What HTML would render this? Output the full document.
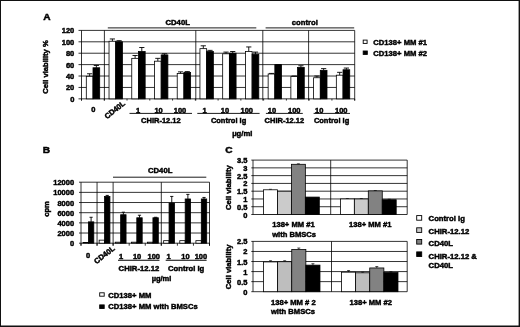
<!DOCTYPE html>
<html><head><meta charset="utf-8"><title>Figure</title>
<style>
html,body{margin:0;padding:0;background:#fff;}
body{width:520px;height:327px;overflow:hidden;position:relative;}
svg{display:block;position:absolute;left:0;top:0;font-family:"Liberation Sans",sans-serif;font-weight:bold;fill:#000;}
text{stroke:#000;stroke-width:0.45px;}
</style></head><body>
<svg width="520" height="327" viewBox="0 0 520 327">
<rect x="0" y="0" width="520" height="327" fill="#fff" stroke="none"/>
<text transform="translate(47.00 19.54) scale(1.13 1)" x="0" y="0" font-size="9.0" text-anchor="middle">A</text>
<line x1="78.50" y1="98.85" x2="354.70" y2="98.85" stroke="#000" stroke-width="0.8"/>
<text x="74.30" y="101.85" font-size="7.5" text-anchor="end">0</text>
<line x1="78.50" y1="87.44" x2="354.70" y2="87.44" stroke="#000" stroke-width="0.8"/>
<text x="74.30" y="90.44" font-size="7.5" text-anchor="end">20</text>
<line x1="78.50" y1="76.03" x2="354.70" y2="76.03" stroke="#000" stroke-width="0.8"/>
<text x="74.30" y="79.03" font-size="7.5" text-anchor="end">40</text>
<line x1="78.50" y1="64.62" x2="354.70" y2="64.62" stroke="#000" stroke-width="0.8"/>
<text x="74.30" y="67.62" font-size="7.5" text-anchor="end">60</text>
<line x1="78.50" y1="53.22" x2="354.70" y2="53.22" stroke="#000" stroke-width="0.8"/>
<text x="74.30" y="56.22" font-size="7.5" text-anchor="end">80</text>
<line x1="78.50" y1="41.81" x2="354.70" y2="41.81" stroke="#000" stroke-width="0.8"/>
<text x="74.30" y="44.81" font-size="7.5" text-anchor="end">100</text>
<line x1="78.50" y1="30.40" x2="354.70" y2="30.40" stroke="#000" stroke-width="0.8"/>
<text x="74.30" y="33.40" font-size="7.5" text-anchor="end">120</text>
<line x1="81.50" y1="30.40" x2="81.50" y2="100.55" stroke="#000" stroke-width="0.8"/>
<line x1="104.40" y1="30.40" x2="104.40" y2="100.55" stroke="#000" stroke-width="0.8"/>
<line x1="195.80" y1="30.40" x2="195.80" y2="100.55" stroke="#000" stroke-width="0.8"/>
<line x1="262.80" y1="30.40" x2="262.80" y2="100.55" stroke="#000" stroke-width="0.8"/>
<line x1="308.60" y1="30.40" x2="308.60" y2="100.55" stroke="#000" stroke-width="0.8"/>
<line x1="354.70" y1="30.40" x2="354.70" y2="100.55" stroke="#000" stroke-width="0.8"/>
<line x1="81.50" y1="98.85" x2="81.50" y2="100.55" stroke="#000" stroke-width="0.8"/>
<line x1="104.27" y1="98.85" x2="104.27" y2="100.55" stroke="#000" stroke-width="0.8"/>
<line x1="127.03" y1="98.85" x2="127.03" y2="100.55" stroke="#000" stroke-width="0.8"/>
<line x1="149.80" y1="98.85" x2="149.80" y2="100.55" stroke="#000" stroke-width="0.8"/>
<line x1="172.57" y1="98.85" x2="172.57" y2="100.55" stroke="#000" stroke-width="0.8"/>
<line x1="195.33" y1="98.85" x2="195.33" y2="100.55" stroke="#000" stroke-width="0.8"/>
<line x1="218.10" y1="98.85" x2="218.10" y2="100.55" stroke="#000" stroke-width="0.8"/>
<line x1="240.87" y1="98.85" x2="240.87" y2="100.55" stroke="#000" stroke-width="0.8"/>
<line x1="263.63" y1="98.85" x2="263.63" y2="100.55" stroke="#000" stroke-width="0.8"/>
<line x1="286.40" y1="98.85" x2="286.40" y2="100.55" stroke="#000" stroke-width="0.8"/>
<line x1="309.17" y1="98.85" x2="309.17" y2="100.55" stroke="#000" stroke-width="0.8"/>
<line x1="331.93" y1="98.85" x2="331.93" y2="100.55" stroke="#000" stroke-width="0.8"/>
<line x1="354.70" y1="98.85" x2="354.70" y2="100.55" stroke="#000" stroke-width="0.8"/>
<line x1="89.65" y1="76.32" x2="89.65" y2="73.75" stroke="#000" stroke-width="0.9"/>
<line x1="87.05" y1="73.75" x2="92.25" y2="73.75" stroke="#000" stroke-width="0.9"/>
<line x1="96.35" y1="67.76" x2="96.35" y2="65.48" stroke="#000" stroke-width="0.9"/>
<line x1="93.75" y1="65.48" x2="98.95" y2="65.48" stroke="#000" stroke-width="0.9"/>
<rect x="86.30" y="76.32" width="6.70" height="22.53" fill="#fff" stroke="#000" stroke-width="0.8"/>
<rect x="93.00" y="67.76" width="6.70" height="31.09" fill="#000" stroke="#000" stroke-width="0.8"/>
<line x1="112.38" y1="41.24" x2="112.38" y2="38.96" stroke="#000" stroke-width="0.9"/>
<line x1="109.78" y1="38.96" x2="114.98" y2="38.96" stroke="#000" stroke-width="0.9"/>
<line x1="119.08" y1="41.81" x2="119.08" y2="40.67" stroke="#000" stroke-width="0.9"/>
<line x1="116.48" y1="40.67" x2="121.68" y2="40.67" stroke="#000" stroke-width="0.9"/>
<rect x="109.03" y="41.24" width="6.70" height="57.61" fill="#fff" stroke="#000" stroke-width="0.8"/>
<rect x="115.73" y="41.81" width="6.70" height="57.04" fill="#000" stroke="#000" stroke-width="0.8"/>
<line x1="135.11" y1="58.35" x2="135.11" y2="55.50" stroke="#000" stroke-width="0.9"/>
<line x1="132.51" y1="55.50" x2="137.71" y2="55.50" stroke="#000" stroke-width="0.9"/>
<line x1="141.81" y1="51.51" x2="141.81" y2="47.51" stroke="#000" stroke-width="0.9"/>
<line x1="139.21" y1="47.51" x2="144.41" y2="47.51" stroke="#000" stroke-width="0.9"/>
<rect x="131.76" y="58.35" width="6.70" height="40.50" fill="#fff" stroke="#000" stroke-width="0.8"/>
<rect x="138.46" y="51.51" width="6.70" height="47.34" fill="#000" stroke="#000" stroke-width="0.8"/>
<line x1="157.84" y1="61.20" x2="157.84" y2="58.35" stroke="#000" stroke-width="0.9"/>
<line x1="155.24" y1="58.35" x2="160.44" y2="58.35" stroke="#000" stroke-width="0.9"/>
<line x1="164.54" y1="54.93" x2="164.54" y2="53.79" stroke="#000" stroke-width="0.9"/>
<line x1="161.94" y1="53.79" x2="167.14" y2="53.79" stroke="#000" stroke-width="0.9"/>
<rect x="154.49" y="61.20" width="6.70" height="37.65" fill="#fff" stroke="#000" stroke-width="0.8"/>
<rect x="161.19" y="54.93" width="6.70" height="43.92" fill="#000" stroke="#000" stroke-width="0.8"/>
<line x1="180.57" y1="73.58" x2="180.57" y2="71.87" stroke="#000" stroke-width="0.9"/>
<line x1="177.97" y1="71.87" x2="183.17" y2="71.87" stroke="#000" stroke-width="0.9"/>
<line x1="187.27" y1="72.44" x2="187.27" y2="71.58" stroke="#000" stroke-width="0.9"/>
<line x1="184.67" y1="71.58" x2="189.87" y2="71.58" stroke="#000" stroke-width="0.9"/>
<rect x="177.22" y="73.58" width="6.70" height="25.27" fill="#fff" stroke="#000" stroke-width="0.8"/>
<rect x="183.92" y="72.44" width="6.70" height="26.41" fill="#000" stroke="#000" stroke-width="0.8"/>
<line x1="203.30" y1="48.65" x2="203.30" y2="45.80" stroke="#000" stroke-width="0.9"/>
<line x1="200.70" y1="45.80" x2="205.90" y2="45.80" stroke="#000" stroke-width="0.9"/>
<line x1="210.00" y1="51.51" x2="210.00" y2="50.36" stroke="#000" stroke-width="0.9"/>
<line x1="207.40" y1="50.36" x2="212.60" y2="50.36" stroke="#000" stroke-width="0.9"/>
<rect x="199.95" y="48.65" width="6.70" height="50.20" fill="#fff" stroke="#000" stroke-width="0.8"/>
<rect x="206.65" y="51.51" width="6.70" height="47.34" fill="#000" stroke="#000" stroke-width="0.8"/>
<line x1="226.03" y1="53.79" x2="226.03" y2="52.08" stroke="#000" stroke-width="0.9"/>
<line x1="223.43" y1="52.08" x2="228.63" y2="52.08" stroke="#000" stroke-width="0.9"/>
<line x1="232.73" y1="53.22" x2="232.73" y2="51.51" stroke="#000" stroke-width="0.9"/>
<line x1="230.13" y1="51.51" x2="235.33" y2="51.51" stroke="#000" stroke-width="0.9"/>
<rect x="222.68" y="53.79" width="6.70" height="45.06" fill="#fff" stroke="#000" stroke-width="0.8"/>
<rect x="229.38" y="53.22" width="6.70" height="45.63" fill="#000" stroke="#000" stroke-width="0.8"/>
<line x1="248.76" y1="51.51" x2="248.76" y2="46.94" stroke="#000" stroke-width="0.9"/>
<line x1="246.16" y1="46.94" x2="251.36" y2="46.94" stroke="#000" stroke-width="0.9"/>
<line x1="255.46" y1="54.36" x2="255.46" y2="52.08" stroke="#000" stroke-width="0.9"/>
<line x1="252.86" y1="52.08" x2="258.06" y2="52.08" stroke="#000" stroke-width="0.9"/>
<rect x="245.41" y="51.51" width="6.70" height="47.34" fill="#fff" stroke="#000" stroke-width="0.8"/>
<rect x="252.11" y="54.36" width="6.70" height="44.49" fill="#000" stroke="#000" stroke-width="0.8"/>
<line x1="271.49" y1="73.98" x2="271.49" y2="73.41" stroke="#000" stroke-width="0.9"/>
<line x1="268.89" y1="73.41" x2="274.09" y2="73.41" stroke="#000" stroke-width="0.9"/>
<line x1="278.19" y1="64.62" x2="278.19" y2="64.62" stroke="#000" stroke-width="0.9"/>
<line x1="275.59" y1="64.62" x2="280.79" y2="64.62" stroke="#000" stroke-width="0.9"/>
<rect x="268.14" y="73.98" width="6.70" height="24.87" fill="#fff" stroke="#000" stroke-width="0.8"/>
<rect x="274.84" y="64.62" width="6.70" height="34.22" fill="#000" stroke="#000" stroke-width="0.8"/>
<line x1="294.22" y1="76.60" x2="294.22" y2="76.03" stroke="#000" stroke-width="0.9"/>
<line x1="291.62" y1="76.03" x2="296.82" y2="76.03" stroke="#000" stroke-width="0.9"/>
<line x1="300.92" y1="67.48" x2="300.92" y2="65.77" stroke="#000" stroke-width="0.9"/>
<line x1="298.32" y1="65.77" x2="303.52" y2="65.77" stroke="#000" stroke-width="0.9"/>
<rect x="290.87" y="76.60" width="6.70" height="22.25" fill="#fff" stroke="#000" stroke-width="0.8"/>
<rect x="297.57" y="67.48" width="6.70" height="31.37" fill="#000" stroke="#000" stroke-width="0.8"/>
<line x1="316.95" y1="77.74" x2="316.95" y2="76.03" stroke="#000" stroke-width="0.9"/>
<line x1="314.35" y1="76.03" x2="319.55" y2="76.03" stroke="#000" stroke-width="0.9"/>
<line x1="323.65" y1="70.33" x2="323.65" y2="68.62" stroke="#000" stroke-width="0.9"/>
<line x1="321.05" y1="68.62" x2="326.25" y2="68.62" stroke="#000" stroke-width="0.9"/>
<rect x="313.60" y="77.74" width="6.70" height="21.11" fill="#fff" stroke="#000" stroke-width="0.8"/>
<rect x="320.30" y="70.33" width="6.70" height="28.52" fill="#000" stroke="#000" stroke-width="0.8"/>
<line x1="339.68" y1="75.18" x2="339.68" y2="72.33" stroke="#000" stroke-width="0.9"/>
<line x1="337.08" y1="72.33" x2="342.28" y2="72.33" stroke="#000" stroke-width="0.9"/>
<line x1="346.38" y1="69.76" x2="346.38" y2="68.05" stroke="#000" stroke-width="0.9"/>
<line x1="343.78" y1="68.05" x2="348.98" y2="68.05" stroke="#000" stroke-width="0.9"/>
<rect x="336.33" y="75.18" width="6.70" height="23.67" fill="#fff" stroke="#000" stroke-width="0.8"/>
<rect x="343.03" y="69.76" width="6.70" height="29.09" fill="#000" stroke="#000" stroke-width="0.8"/>
<text x="47.90" y="67.00" font-size="7.65" text-anchor="middle" transform="rotate(-90 47.90 67.00)">Cell viability %</text>
<text x="177.70" y="24.57" font-size="7.7" text-anchor="middle">CD40L</text>
<text x="304.80" y="24.57" font-size="7.7" text-anchor="middle">control</text>
<line x1="107.80" y1="27.90" x2="256.30" y2="27.90" stroke="#000" stroke-width="0.9"/>
<line x1="265.60" y1="27.90" x2="354.20" y2="27.90" stroke="#000" stroke-width="0.9"/>
<text x="93.30" y="112.40" font-size="7.5" text-anchor="middle">0</text>
<text x="125.70" y="104.50" font-size="7.5" text-anchor="end" transform="rotate(-38 125.70 104.50)">CD40L</text>
<text x="138.00" y="112.70" font-size="7.5" text-anchor="middle">1</text>
<text x="158.60" y="112.70" font-size="7.5" text-anchor="middle">10</text>
<text x="180.00" y="112.70" font-size="7.5" text-anchor="middle">100</text>
<text x="204.50" y="112.70" font-size="7.5" text-anchor="middle">1</text>
<text x="225.00" y="112.70" font-size="7.5" text-anchor="middle">10</text>
<text x="246.75" y="112.70" font-size="7.5" text-anchor="middle">100</text>
<text x="272.00" y="112.70" font-size="7.5" text-anchor="middle">10</text>
<text x="294.25" y="112.70" font-size="7.5" text-anchor="middle">100</text>
<text x="319.25" y="112.70" font-size="7.5" text-anchor="middle">10</text>
<text x="341.25" y="112.70" font-size="7.5" text-anchor="middle">100</text>
<line x1="129.50" y1="113.40" x2="192.00" y2="113.40" stroke="#000" stroke-width="0.9"/>
<line x1="197.30" y1="113.40" x2="259.60" y2="113.40" stroke="#000" stroke-width="0.9"/>
<line x1="265.90" y1="113.40" x2="302.80" y2="113.40" stroke="#000" stroke-width="0.9"/>
<line x1="313.60" y1="113.40" x2="350.00" y2="113.40" stroke="#000" stroke-width="0.9"/>
<text x="160.90" y="122.50" font-size="7.5" text-anchor="middle">CHIR-12.12</text>
<text x="228.60" y="122.50" font-size="7.5" text-anchor="middle">Control Ig</text>
<text x="284.40" y="122.50" font-size="7.5" text-anchor="middle">CHIR-12.12</text>
<text x="331.60" y="122.50" font-size="7.5" text-anchor="middle">Control Ig</text>
<text x="242.30" y="135.67" font-size="7.7" text-anchor="middle">µg/ml</text>
<rect x="363.20" y="40.10" width="3.90" height="3.30" fill="#fff" stroke="#000" stroke-width="0.9"/>
<text x="373.30" y="44.85" font-size="7.65" text-anchor="start">CD138+ MM #1</text>
<rect x="363.20" y="51.00" width="4.10" height="3.40" fill="#000" stroke="#000" stroke-width="0.9"/>
<text x="373.30" y="55.75" font-size="7.65" text-anchor="start">CD138+ MM #2</text>
<text transform="translate(46.30 152.74) scale(1.13 1)" x="0" y="0" font-size="9.0" text-anchor="middle">B</text>
<line x1="79.00" y1="243.20" x2="209.50" y2="243.20" stroke="#000" stroke-width="0.8"/>
<text x="74.10" y="246.20" font-size="7.5" text-anchor="end">0</text>
<line x1="79.00" y1="233.03" x2="209.50" y2="233.03" stroke="#000" stroke-width="0.8"/>
<text x="74.10" y="236.03" font-size="7.5" text-anchor="end">2000</text>
<line x1="79.00" y1="222.87" x2="209.50" y2="222.87" stroke="#000" stroke-width="0.8"/>
<text x="74.10" y="225.87" font-size="7.5" text-anchor="end">4000</text>
<line x1="79.00" y1="212.70" x2="209.50" y2="212.70" stroke="#000" stroke-width="0.8"/>
<text x="74.10" y="215.70" font-size="7.5" text-anchor="end">6000</text>
<line x1="79.00" y1="202.53" x2="209.50" y2="202.53" stroke="#000" stroke-width="0.8"/>
<text x="74.10" y="205.53" font-size="7.5" text-anchor="end">8000</text>
<line x1="79.00" y1="192.37" x2="209.50" y2="192.37" stroke="#000" stroke-width="0.8"/>
<text x="74.10" y="195.37" font-size="7.5" text-anchor="end">10000</text>
<line x1="79.00" y1="182.20" x2="209.50" y2="182.20" stroke="#000" stroke-width="0.8"/>
<text x="74.10" y="185.20" font-size="7.5" text-anchor="end">12000</text>
<line x1="81.00" y1="182.20" x2="81.00" y2="245.70" stroke="#000" stroke-width="0.8"/>
<line x1="97.06" y1="182.20" x2="97.06" y2="245.70" stroke="#000" stroke-width="0.8"/>
<line x1="113.12" y1="182.20" x2="113.12" y2="245.70" stroke="#000" stroke-width="0.8"/>
<line x1="161.31" y1="182.20" x2="161.31" y2="245.70" stroke="#000" stroke-width="0.8"/>
<line x1="209.50" y1="182.20" x2="209.50" y2="245.70" stroke="#000" stroke-width="0.8"/>
<line x1="81.00" y1="243.20" x2="81.00" y2="245.70" stroke="#000" stroke-width="0.8"/>
<line x1="97.06" y1="243.20" x2="97.06" y2="245.70" stroke="#000" stroke-width="0.8"/>
<line x1="113.12" y1="243.20" x2="113.12" y2="245.70" stroke="#000" stroke-width="0.8"/>
<line x1="129.19" y1="243.20" x2="129.19" y2="245.70" stroke="#000" stroke-width="0.8"/>
<line x1="145.25" y1="243.20" x2="145.25" y2="245.70" stroke="#000" stroke-width="0.8"/>
<line x1="161.31" y1="243.20" x2="161.31" y2="245.70" stroke="#000" stroke-width="0.8"/>
<line x1="177.38" y1="243.20" x2="177.38" y2="245.70" stroke="#000" stroke-width="0.8"/>
<line x1="193.44" y1="243.20" x2="193.44" y2="245.70" stroke="#000" stroke-width="0.8"/>
<line x1="209.50" y1="243.20" x2="209.50" y2="245.70" stroke="#000" stroke-width="0.8"/>
<line x1="91.10" y1="221.85" x2="91.10" y2="217.28" stroke="#000" stroke-width="0.9"/>
<line x1="89.50" y1="217.28" x2="92.70" y2="217.28" stroke="#000" stroke-width="0.9"/>
<rect x="83.00" y="242.44" width="5.40" height="0.76" fill="#fff" stroke="#000" stroke-width="0.8"/>
<rect x="88.40" y="221.85" width="5.40" height="21.35" fill="#000" stroke="#000" stroke-width="0.8"/>
<line x1="107.23" y1="196.43" x2="107.23" y2="195.42" stroke="#000" stroke-width="0.9"/>
<line x1="105.63" y1="195.42" x2="108.83" y2="195.42" stroke="#000" stroke-width="0.9"/>
<rect x="99.13" y="240.15" width="5.40" height="3.05" fill="#fff" stroke="#000" stroke-width="0.8"/>
<rect x="104.53" y="196.43" width="5.40" height="46.77" fill="#000" stroke="#000" stroke-width="0.8"/>
<line x1="123.36" y1="214.73" x2="123.36" y2="212.19" stroke="#000" stroke-width="0.9"/>
<line x1="121.76" y1="212.19" x2="124.96" y2="212.19" stroke="#000" stroke-width="0.9"/>
<rect x="115.26" y="242.18" width="5.40" height="1.02" fill="#fff" stroke="#000" stroke-width="0.8"/>
<rect x="120.66" y="214.73" width="5.40" height="28.47" fill="#000" stroke="#000" stroke-width="0.8"/>
<line x1="139.49" y1="217.78" x2="139.49" y2="215.24" stroke="#000" stroke-width="0.9"/>
<line x1="137.89" y1="215.24" x2="141.09" y2="215.24" stroke="#000" stroke-width="0.9"/>
<rect x="131.39" y="242.18" width="5.40" height="1.02" fill="#fff" stroke="#000" stroke-width="0.8"/>
<rect x="136.79" y="217.78" width="5.40" height="25.42" fill="#000" stroke="#000" stroke-width="0.8"/>
<line x1="155.62" y1="217.78" x2="155.62" y2="217.28" stroke="#000" stroke-width="0.9"/>
<line x1="154.02" y1="217.28" x2="157.22" y2="217.28" stroke="#000" stroke-width="0.9"/>
<rect x="147.52" y="242.18" width="5.40" height="1.02" fill="#fff" stroke="#000" stroke-width="0.8"/>
<rect x="152.92" y="217.78" width="5.40" height="25.42" fill="#000" stroke="#000" stroke-width="0.8"/>
<line x1="171.75" y1="203.04" x2="171.75" y2="196.43" stroke="#000" stroke-width="0.9"/>
<line x1="170.15" y1="196.43" x2="173.35" y2="196.43" stroke="#000" stroke-width="0.9"/>
<rect x="163.65" y="240.66" width="5.40" height="2.54" fill="#fff" stroke="#000" stroke-width="0.8"/>
<rect x="169.05" y="203.04" width="5.40" height="40.16" fill="#000" stroke="#000" stroke-width="0.8"/>
<line x1="187.88" y1="198.97" x2="187.88" y2="194.40" stroke="#000" stroke-width="0.9"/>
<line x1="186.28" y1="194.40" x2="189.48" y2="194.40" stroke="#000" stroke-width="0.9"/>
<rect x="179.78" y="240.66" width="5.40" height="2.54" fill="#fff" stroke="#000" stroke-width="0.8"/>
<rect x="185.18" y="198.97" width="5.40" height="44.22" fill="#000" stroke="#000" stroke-width="0.8"/>
<line x1="204.01" y1="198.97" x2="204.01" y2="197.45" stroke="#000" stroke-width="0.9"/>
<line x1="202.41" y1="197.45" x2="205.61" y2="197.45" stroke="#000" stroke-width="0.9"/>
<rect x="195.91" y="240.66" width="5.40" height="2.54" fill="#fff" stroke="#000" stroke-width="0.8"/>
<rect x="201.31" y="198.97" width="5.40" height="44.22" fill="#000" stroke="#000" stroke-width="0.8"/>
<text x="48.80" y="209.00" font-size="7.6" text-anchor="middle" transform="rotate(-90 48.80 209.00)">cpm</text>
<text x="160.20" y="172.77" font-size="7.7" text-anchor="middle">CD40L</text>
<line x1="113.00" y1="177.20" x2="206.30" y2="177.20" stroke="#000" stroke-width="0.9"/>
<text x="88.20" y="258.40" font-size="7.5" text-anchor="middle">0</text>
<text x="115.30" y="249.50" font-size="7.5" text-anchor="end" transform="rotate(-38 115.30 249.50)">CD40L</text>
<text x="121.00" y="258.60" font-size="7.5" text-anchor="middle">1</text>
<text x="137.10" y="258.60" font-size="7.5" text-anchor="middle">10</text>
<text x="153.80" y="258.60" font-size="7.5" text-anchor="middle">100</text>
<text x="168.50" y="258.60" font-size="7.5" text-anchor="middle">1</text>
<text x="185.50" y="258.60" font-size="7.5" text-anchor="middle">10</text>
<text x="200.90" y="258.60" font-size="7.5" text-anchor="middle">100</text>
<line x1="118.00" y1="260.20" x2="159.50" y2="260.20" stroke="#000" stroke-width="1.1"/>
<line x1="165.70" y1="260.20" x2="206.60" y2="260.20" stroke="#000" stroke-width="1.1"/>
<text x="138.90" y="270.97" font-size="7.7" text-anchor="middle">CHIR-12.12</text>
<text x="186.10" y="270.97" font-size="7.7" text-anchor="middle">Control Ig</text>
<text x="161.50" y="280.90" font-size="7.5" text-anchor="middle">µg/ml</text>
<rect x="99.70" y="292.80" width="4.50" height="3.40" fill="#fff" stroke="#000" stroke-width="0.9"/>
<text x="108.30" y="297.55" font-size="7.65" text-anchor="start">CD138+ MM</text>
<rect x="99.70" y="304.90" width="4.50" height="3.60" fill="#000" stroke="#000" stroke-width="0.9"/>
<text x="108.30" y="309.05" font-size="7.65" text-anchor="start">CD138+ MM with BMSCs</text>
<text transform="translate(228.90 152.84) scale(1.13 1)" x="0" y="0" font-size="9.0" text-anchor="middle">C</text>
<line x1="251.30" y1="214.50" x2="407.20" y2="214.50" stroke="#000" stroke-width="0.8"/>
<text x="247.50" y="217.50" font-size="7.5" text-anchor="end">0</text>
<line x1="251.30" y1="206.73" x2="407.20" y2="206.73" stroke="#000" stroke-width="0.8"/>
<text x="247.50" y="209.73" font-size="7.5" text-anchor="end">0.5</text>
<line x1="251.30" y1="198.96" x2="407.20" y2="198.96" stroke="#000" stroke-width="0.8"/>
<text x="247.50" y="201.96" font-size="7.5" text-anchor="end">1</text>
<line x1="251.30" y1="191.19" x2="407.20" y2="191.19" stroke="#000" stroke-width="0.8"/>
<text x="247.50" y="194.19" font-size="7.5" text-anchor="end">1.5</text>
<line x1="251.30" y1="183.41" x2="407.20" y2="183.41" stroke="#000" stroke-width="0.8"/>
<text x="247.50" y="186.41" font-size="7.5" text-anchor="end">2</text>
<line x1="251.30" y1="175.64" x2="407.20" y2="175.64" stroke="#000" stroke-width="0.8"/>
<text x="247.50" y="178.64" font-size="7.5" text-anchor="end">2.5</text>
<line x1="251.30" y1="167.87" x2="407.20" y2="167.87" stroke="#000" stroke-width="0.8"/>
<text x="247.50" y="170.87" font-size="7.5" text-anchor="end">3</text>
<line x1="251.30" y1="160.10" x2="407.20" y2="160.10" stroke="#000" stroke-width="0.8"/>
<text x="247.50" y="163.10" font-size="7.5" text-anchor="end">3.5</text>
<line x1="253.00" y1="160.10" x2="253.00" y2="214.50" stroke="#000" stroke-width="0.8"/>
<line x1="330.70" y1="160.10" x2="330.70" y2="214.50" stroke="#000" stroke-width="0.8"/>
<line x1="407.20" y1="160.10" x2="407.20" y2="214.50" stroke="#000" stroke-width="0.8"/>
<line x1="270.48" y1="189.79" x2="270.48" y2="189.32" stroke="#000" stroke-width="0.7"/>
<line x1="268.98" y1="189.32" x2="271.98" y2="189.32" stroke="#000" stroke-width="0.7"/>
<rect x="263.50" y="189.79" width="13.95" height="24.71" fill="#fff" stroke="#000" stroke-width="0.8"/>
<rect x="277.45" y="191.19" width="13.95" height="23.31" fill="#cbcbcb" stroke="#000" stroke-width="0.8"/>
<line x1="298.38" y1="164.30" x2="298.38" y2="163.83" stroke="#000" stroke-width="0.7"/>
<line x1="296.88" y1="163.83" x2="299.88" y2="163.83" stroke="#000" stroke-width="0.7"/>
<rect x="291.40" y="164.30" width="13.95" height="50.20" fill="#828282" stroke="#000" stroke-width="0.8"/>
<rect x="305.35" y="197.09" width="13.95" height="17.41" fill="#000" stroke="#000" stroke-width="0.8"/>
<line x1="347.38" y1="198.96" x2="347.38" y2="198.65" stroke="#000" stroke-width="0.7"/>
<line x1="345.88" y1="198.65" x2="348.88" y2="198.65" stroke="#000" stroke-width="0.7"/>
<rect x="340.40" y="198.96" width="13.95" height="15.54" fill="#fff" stroke="#000" stroke-width="0.8"/>
<line x1="361.32" y1="198.96" x2="361.32" y2="198.65" stroke="#000" stroke-width="0.7"/>
<line x1="359.82" y1="198.65" x2="362.82" y2="198.65" stroke="#000" stroke-width="0.7"/>
<rect x="354.35" y="198.96" width="13.95" height="15.54" fill="#cbcbcb" stroke="#000" stroke-width="0.8"/>
<line x1="375.27" y1="190.87" x2="375.27" y2="190.56" stroke="#000" stroke-width="0.7"/>
<line x1="373.77" y1="190.56" x2="376.77" y2="190.56" stroke="#000" stroke-width="0.7"/>
<rect x="368.30" y="190.87" width="13.95" height="23.63" fill="#828282" stroke="#000" stroke-width="0.8"/>
<line x1="389.22" y1="199.73" x2="389.22" y2="199.27" stroke="#000" stroke-width="0.7"/>
<line x1="387.72" y1="199.27" x2="390.72" y2="199.27" stroke="#000" stroke-width="0.7"/>
<rect x="382.25" y="199.73" width="13.95" height="14.77" fill="#000" stroke="#000" stroke-width="0.8"/>
<text x="231.40" y="187.60" font-size="7.65" text-anchor="middle" transform="rotate(-90 231.40 187.60)">Cell viability</text>
<line x1="251.30" y1="291.70" x2="407.20" y2="291.70" stroke="#000" stroke-width="0.8"/>
<text x="247.50" y="294.70" font-size="7.5" text-anchor="end">0</text>
<line x1="251.30" y1="281.64" x2="407.20" y2="281.64" stroke="#000" stroke-width="0.8"/>
<text x="247.50" y="284.64" font-size="7.5" text-anchor="end">0.5</text>
<line x1="251.30" y1="271.58" x2="407.20" y2="271.58" stroke="#000" stroke-width="0.8"/>
<text x="247.50" y="274.58" font-size="7.5" text-anchor="end">1</text>
<line x1="251.30" y1="261.52" x2="407.20" y2="261.52" stroke="#000" stroke-width="0.8"/>
<text x="247.50" y="264.52" font-size="7.5" text-anchor="end">1.5</text>
<line x1="251.30" y1="251.46" x2="407.20" y2="251.46" stroke="#000" stroke-width="0.8"/>
<text x="247.50" y="254.46" font-size="7.5" text-anchor="end">2</text>
<line x1="251.30" y1="241.40" x2="407.20" y2="241.40" stroke="#000" stroke-width="0.8"/>
<text x="247.50" y="244.40" font-size="7.5" text-anchor="end">2.5</text>
<line x1="253.00" y1="241.40" x2="253.00" y2="291.70" stroke="#000" stroke-width="0.8"/>
<line x1="331.50" y1="241.40" x2="331.50" y2="291.70" stroke="#000" stroke-width="0.8"/>
<line x1="407.20" y1="241.40" x2="407.20" y2="291.70" stroke="#000" stroke-width="0.8"/>
<line x1="270.56" y1="261.92" x2="270.56" y2="260.72" stroke="#000" stroke-width="0.7"/>
<line x1="269.06" y1="260.72" x2="272.06" y2="260.72" stroke="#000" stroke-width="0.7"/>
<rect x="263.50" y="261.92" width="14.12" height="29.78" fill="#fff" stroke="#000" stroke-width="0.8"/>
<line x1="284.68" y1="261.72" x2="284.68" y2="260.72" stroke="#000" stroke-width="0.7"/>
<line x1="283.18" y1="260.72" x2="286.18" y2="260.72" stroke="#000" stroke-width="0.7"/>
<rect x="277.62" y="261.72" width="14.12" height="29.98" fill="#bebebe" stroke="#000" stroke-width="0.8"/>
<line x1="298.80" y1="249.45" x2="298.80" y2="248.04" stroke="#000" stroke-width="0.7"/>
<line x1="297.30" y1="248.04" x2="300.30" y2="248.04" stroke="#000" stroke-width="0.7"/>
<rect x="291.74" y="249.45" width="14.12" height="42.25" fill="#828282" stroke="#000" stroke-width="0.8"/>
<line x1="312.92" y1="265.14" x2="312.92" y2="263.73" stroke="#000" stroke-width="0.7"/>
<line x1="311.42" y1="263.73" x2="314.42" y2="263.73" stroke="#000" stroke-width="0.7"/>
<rect x="305.86" y="265.14" width="14.12" height="26.56" fill="#000" stroke="#000" stroke-width="0.8"/>
<line x1="348.56" y1="272.18" x2="348.56" y2="270.57" stroke="#000" stroke-width="0.7"/>
<line x1="347.06" y1="270.57" x2="350.06" y2="270.57" stroke="#000" stroke-width="0.7"/>
<rect x="341.50" y="272.18" width="14.12" height="19.52" fill="#fff" stroke="#000" stroke-width="0.8"/>
<line x1="362.68" y1="272.79" x2="362.68" y2="272.18" stroke="#000" stroke-width="0.7"/>
<line x1="361.18" y1="272.18" x2="364.18" y2="272.18" stroke="#000" stroke-width="0.7"/>
<rect x="355.62" y="272.79" width="14.12" height="18.91" fill="#bebebe" stroke="#000" stroke-width="0.8"/>
<line x1="376.80" y1="267.96" x2="376.80" y2="266.55" stroke="#000" stroke-width="0.7"/>
<line x1="375.30" y1="266.55" x2="378.30" y2="266.55" stroke="#000" stroke-width="0.7"/>
<rect x="369.74" y="267.96" width="14.12" height="23.74" fill="#828282" stroke="#000" stroke-width="0.8"/>
<line x1="390.92" y1="272.59" x2="390.92" y2="271.78" stroke="#000" stroke-width="0.7"/>
<line x1="389.42" y1="271.78" x2="392.42" y2="271.78" stroke="#000" stroke-width="0.7"/>
<rect x="383.86" y="272.59" width="14.12" height="19.11" fill="#000" stroke="#000" stroke-width="0.8"/>
<text x="231.40" y="266.85" font-size="7.65" text-anchor="middle" transform="rotate(-90 231.40 266.85)">Cell viability</text>
<text x="272.20" y="227.04" font-size="7.6" text-anchor="start">138+ MM #1</text>
<text x="272.20" y="236.54" font-size="7.6" text-anchor="start">with BMSCs</text>
<text x="370.30" y="227.04" font-size="7.6" text-anchor="middle">138+ MM #1</text>
<text x="270.90" y="304.95" font-size="7.65" text-anchor="start">138+ MM # 2</text>
<text x="270.90" y="314.25" font-size="7.65" text-anchor="start">with BMSCs</text>
<text x="370.80" y="304.94" font-size="7.6" text-anchor="middle">138+ MM #2</text>
<rect x="416.70" y="215.60" width="5.00" height="4.60" fill="#fff" stroke="#000" stroke-width="0.9"/>
<rect x="416.70" y="227.80" width="5.00" height="4.60" fill="#cbcbcb" stroke="#000" stroke-width="0.9"/>
<rect x="416.70" y="239.50" width="5.00" height="4.60" fill="#828282" stroke="#000" stroke-width="0.9"/>
<rect x="416.70" y="251.90" width="5.00" height="4.60" fill="#000" stroke="#000" stroke-width="0.9"/>
<text x="428.60" y="220.97" font-size="7.7" text-anchor="start">Control Ig</text>
<text x="428.60" y="233.57" font-size="7.7" text-anchor="start">CHIR-12.12</text>
<text x="428.60" y="246.17" font-size="7.7" text-anchor="start">CD40L</text>
<text x="428.60" y="259.07" font-size="7.7" text-anchor="start">CHIR-12.12 &amp;</text>
<text x="428.60" y="267.97" font-size="7.7" text-anchor="start">CD40L</text>
<path d="M0 0H520V327H0Z M1 1V325.6H518.6V1Z" fill="#111" fill-rule="evenodd" stroke="none"/>
</svg>
</body></html>
